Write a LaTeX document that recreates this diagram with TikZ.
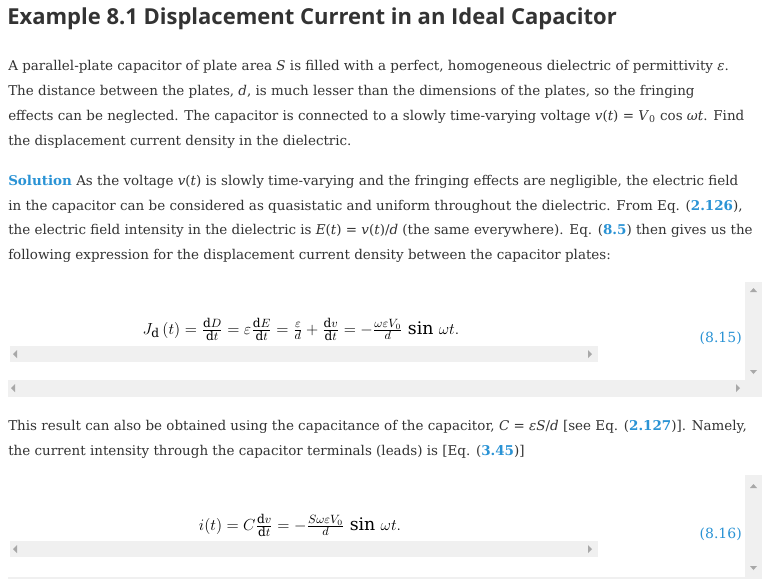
\documentclass[tikz,border=0pt]{standalone}
\usepackage{fontspec}
\setmainfont{DejaVu Serif}
\newfontfamily\titlefont{Open Sans}
\definecolor{lnk}{HTML}{2A93D5}
\definecolor{bar}{HTML}{F0F0F0}
\definecolor{arr}{HTML}{A8A8A8}
\definecolor{txt}{HTML}{333333}
\newcommand{\lk}[1]{\textcolor{lnk}{\textbf{#1}}}
\begin{document}
\begin{tikzpicture}[x=0.75pt,y=-0.75pt,
  ln/.style={anchor=base west,inner sep=0pt,text=txt,font=\fontsize{10.1}{12}\selectfont},
  eq/.style={anchor=base,inner sep=0pt,font=\fontsize{13}{15}\selectfont},
  num/.style={anchor=base east,inner sep=0pt,text=lnk,font=\fontsize{10.5}{12}\selectfont},
  barbox/.style={fill=bar,draw=none},
  tri/.style={fill=arr,draw=none}]
\useasboundingbox (0,0) rectangle (769,579);
\fill[white] (0,0) rectangle (769,579);
\node[anchor=base west,inner sep=0pt,text=txt,font=\titlefont\fontsize{16.5}{18}\selectfont\bfseries] (title) at (7,24) {Example 8.1 Displacement Current in an Ideal Capacitor};
\node[ln] (p1) at (8,70) {A parallel-plate capacitor of plate area \textit{S} is filled with a perfect, homogeneous dielectric of permittivity \textit{ε}.};
\node[ln] (p2) at (8,95) {The distance between the plates, \textit{d}, is much lesser than the dimensions of the plates, so the fringing};
\node[ln] (p3) at (8,120) {effects can be neglected. The capacitor is connected to a slowly time-varying voltage \textit{v}(\textit{t}) = \textit{V}\textsubscript{0} cos \textit{ωt}. Find};
\node[ln] (p4) at (8,145) {the displacement current density in the dielectric.};
\node[ln] (s1) at (8,185) {\lk{Solution} As the voltage \textit{v}(\textit{t}) is slowly time-varying and the fringing effects are negligible, the electric field};
\node[ln] (s2) at (8,210) {in the capacitor can be considered as quasistatic and uniform throughout the dielectric. From Eq. (\lk{2.126}),};
\node[ln] (s3) at (8,234) {the electric field intensity in the dielectric is \textit{E}(\textit{t}) = \textit{v}(\textit{t})/\textit{d} (the same everywhere). Eq. (\lk{8.5}) then gives us the};
\node[ln] (s4) at (8,259) {following expression for the displacement current density between the capacitor plates:};
% first equation block
\fill[barbox] (10,346) rectangle (598,362);
\fill[tri] (17,350) -- (17,358) -- (13,354) -- cycle;
\fill[tri] (588,350) -- (588,358) -- (592,354) -- cycle;
\fill[barbox] (8,380) rectangle (745,397);
\fill[tri] (15,384) -- (15,392) -- (11,388) -- cycle;
\fill[tri] (736,384) -- (736,392) -- (740,388) -- cycle;
\fill[barbox] (745,282) rectangle (762,397);
\fill[tri] (750,292) -- (757,292) -- (753.5,288) -- cycle;
\fill[tri] (750,370) -- (757,370) -- (753.5,374) -- cycle;
\node[eq] (e1) at (301,334) {$J_{\mathrm{d}}\,(t)=\frac{\mathrm{d}D}{\mathrm{d}t}=\varepsilon\frac{\mathrm{d}E}{\mathrm{d}t}=\frac{\varepsilon}{d}+\frac{\mathrm{d}v}{\mathrm{d}t}=-\frac{\omega\varepsilon V_0}{d}\,\sin\,\omega t.$};
\node[num] (n1) at (742,342) {(8.15)};
\node[ln] (t1) at (8,430) {This result can also be obtained using the capacitance of the capacitor, \textit{C} = \textit{εS}/\textit{d} [see Eq. (\lk{2.127})]. Namely,};
\node[ln] (t2) at (8,455) {the current intensity through the capacitor terminals (leads) is [Eq. (\lk{3.45})]};
% second equation block
\fill[barbox] (10,541) rectangle (598,557);
\fill[tri] (17,545) -- (17,553) -- (13,549) -- cycle;
\fill[tri] (588,545) -- (588,553) -- (592,549) -- cycle;
\fill[barbox] (745,475) rectangle (762,579);
\fill[tri] (750,488) -- (757,488) -- (753.5,484) -- cycle;
\fill[tri] (750,566) -- (757,566) -- (753.5,570) -- cycle;
\draw[bar,line width=1pt] (8,578) -- (745,578);
\node[eq] (e2) at (300,530) {$i(t)=C\frac{\mathrm{d}v}{\mathrm{d}t}=-\frac{S\omega\varepsilon V_0}{d}\,\sin\,\omega t.$};
\node[num] (n2) at (742,538) {(8.16)};
\end{tikzpicture}
\end{document}
